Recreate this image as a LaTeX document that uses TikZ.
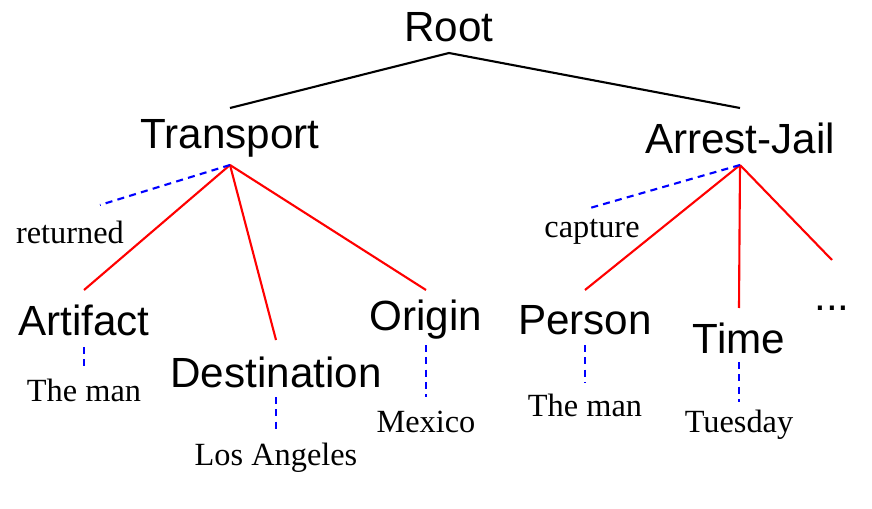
\documentclass[tikz,border=0pt]{standalone}
\usepackage{fontspec}
\setmainfont{Liberation Serif}
\newfontfamily\sansf{Liberation Sans}
\begin{document}
\begin{tikzpicture}[x={(0.01cm,0)},y={(0,-0.01cm)},
 big/.style={font=\sansf\fontsize{12}{14}\selectfont,inner sep=0},
 sm/.style={font=\fontsize{9.2}{11}\selectfont,inner sep=0},
 blk/.style={black,line width=0.6pt},
 redl/.style={red,line width=0.6pt},
 blu/.style={blue,line width=0.6pt,dash pattern=on 2pt off 1.5pt}]
\useasboundingbox (0,0) rectangle (872,509);
\node[big] (root) at (449,27) {Root};
\node[big] (tr) at (230,138) {Transport};
\node[big] (aj) at (740,138) {Arrest-Jail};
\node[big] (art) at (84,320) {Artifact};
\node[big] (dst) at (276,372) {Destination};
\node[big] (ori) at (426,320) {Origin};
\node[big] (per) at (585,320) {Person};
\node[big] (tim) at (739,338) {Time};
\node[big] (dots) at (832,308) {...};
\coordinate (r0) at (449,53);
\coordinate (t0) at (230,108);
\coordinate (a0) at (740,108);
\coordinate (t1) at (230,165);
\coordinate (a1) at (740,165);
\draw[blk] (r0) -- (t0);
\draw[blk] (r0) -- (a0);
\coordinate (art0) at (84,290);
\coordinate (dst0) at (276,340);
\coordinate (ori0) at (426,290);
\coordinate (per0) at (585,290);
\coordinate (tim0) at (739,308);
\coordinate (dots0) at (832,260);
\draw[redl] (t1) -- (art0); \draw[redl] (t1) -- (dst0); \draw[redl] (t1) -- (ori0);
\draw[redl] (a1) -- (per0); \draw[redl] (a1) -- (tim0); \draw[redl] (a1) -- (dots0);
\node[sm] (ret) at (70,232) {returned};
\node[sm] (cap) at (592,232) {capture};
\coordinate (ret0) at (100,205);
\coordinate (cap0) at (590,208);
\draw[blu] (t1) -- (ret0);
\draw[blu] (a1) -- (cap0);
\node[sm] (w1) at (84,390) {The man};
\node[sm] (w2) at (276,458) {Los Angeles};
\node[sm] (w3) at (426,422) {Mexico};
\node[sm] (w4) at (585,405) {The man};
\node[sm] (w5) at (739,425) {Tuesday};
\draw[blu] (84,347) -- (84,368);
\draw[blu] (276,397) -- (276,432);
\draw[blu] (426,345) -- (426,397);
\draw[blu] (585,345) -- (585,382);
\draw[blu] (739,362) -- (739,402);
\end{tikzpicture}
\end{document}
